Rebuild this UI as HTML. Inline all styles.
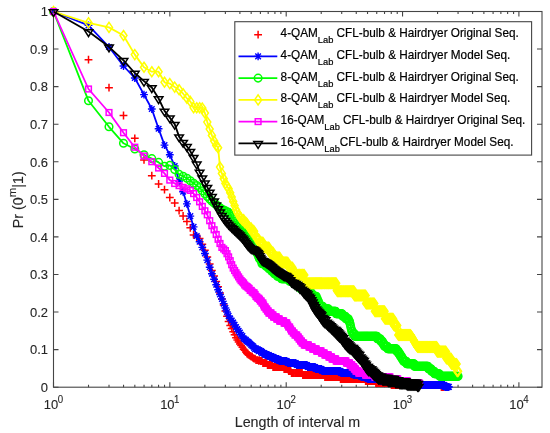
<!DOCTYPE html>
<html><head><meta charset="utf-8"><title>Pr(0^m|1) vs Length of interval m</title>
<style>
html,body{margin:0;padding:0;background:#fff}
svg{display:block}
text{font-family:"Liberation Sans",Arial,Helvetica,sans-serif;font-size:13px;fill:#262626;stroke:#262626;stroke-width:0.1px}
.lg text{fill:#000;font-size:11.76px;stroke:#000;stroke-width:0.2px}
</style></head><body>
<svg width="550" height="433" viewBox="0 0 550 433">
<defs>
<g id="gmp"><path d="M-3.9 0H3.9M0 -3.9V3.9" stroke="#ff0000" stroke-width="1.5" fill="none"/></g>
<g id="gms"><path d="M-3.9 0H3.9M0 -3.9V3.9M-2.8 -2.8L2.8 2.8M-2.8 2.8L2.8 -2.8" stroke="#0000ff" stroke-width="1.4" fill="none"/></g>
<g id="gmc"><circle r="3.8" stroke="#00ff00" stroke-width="1.5" fill="none"/></g>
<g id="gmd"><path d="M0 -5L3.5 0L0 5L-3.5 0Z" stroke="#ffff00" stroke-width="1.5" fill="none"/></g>
<g id="gmq"><rect x="-2.85" y="-2.85" width="5.7" height="5.7" stroke="#ff00ff" stroke-width="1.5" fill="none"/></g>
<g id="gmt"><path d="M-4.3 -1.7H4.3L0 5.0Z" stroke="#000" stroke-width="1.5" fill="none" stroke-linejoin="miter"/></g>
<marker id="mp" markerUnits="userSpaceOnUse" markerWidth="14" markerHeight="14" viewBox="-7 -7 14 14" refX="0" refY="0" orient="0" overflow="visible"><use href="#gmp"/></marker>
<marker id="ms" markerUnits="userSpaceOnUse" markerWidth="14" markerHeight="14" viewBox="-7 -7 14 14" refX="0" refY="0" orient="0" overflow="visible"><use href="#gms"/></marker>
<marker id="mc" markerUnits="userSpaceOnUse" markerWidth="14" markerHeight="14" viewBox="-7 -7 14 14" refX="0" refY="0" orient="0" overflow="visible"><use href="#gmc"/></marker>
<marker id="md" markerUnits="userSpaceOnUse" markerWidth="14" markerHeight="14" viewBox="-7 -7 14 14" refX="0" refY="0" orient="0" overflow="visible"><use href="#gmd"/></marker>
<marker id="mq" markerUnits="userSpaceOnUse" markerWidth="14" markerHeight="14" viewBox="-7 -7 14 14" refX="0" refY="0" orient="0" overflow="visible"><use href="#gmq"/></marker>
<marker id="mt" markerUnits="userSpaceOnUse" markerWidth="14" markerHeight="14" viewBox="-7 -7 14 14" refX="0" refY="0" orient="0" overflow="visible"><use href="#gmt"/></marker>
</defs>
<rect width="550" height="433" fill="#fff"/>
<g id="axes">
<rect x="53.5" y="11.5" width="488.5" height="375.7" fill="none" stroke="#454545" stroke-width="1.1"/>
<path d="M53.50 387.2v-5M53.50 11.5v5M88.52 387.2v-2.5M88.52 11.5v2.5M109.01 387.2v-2.5M109.01 11.5v2.5M123.55 387.2v-2.5M123.55 11.5v2.5M134.83 387.2v-2.5M134.83 11.5v2.5M144.04 387.2v-2.5M144.04 11.5v2.5M151.83 387.2v-2.5M151.83 11.5v2.5M158.57 387.2v-2.5M158.57 11.5v2.5M164.53 387.2v-2.5M164.53 11.5v2.5M169.85 387.2v-5M169.85 11.5v5M204.87 387.2v-2.5M204.87 11.5v2.5M225.36 387.2v-2.5M225.36 11.5v2.5M239.90 387.2v-2.5M239.90 11.5v2.5M251.18 387.2v-2.5M251.18 11.5v2.5M260.39 387.2v-2.5M260.39 11.5v2.5M268.18 387.2v-2.5M268.18 11.5v2.5M274.92 387.2v-2.5M274.92 11.5v2.5M280.88 387.2v-2.5M280.88 11.5v2.5M286.20 387.2v-5M286.20 11.5v5M321.22 387.2v-2.5M321.22 11.5v2.5M341.71 387.2v-2.5M341.71 11.5v2.5M356.25 387.2v-2.5M356.25 11.5v2.5M367.53 387.2v-2.5M367.53 11.5v2.5M376.74 387.2v-2.5M376.74 11.5v2.5M384.53 387.2v-2.5M384.53 11.5v2.5M391.27 387.2v-2.5M391.27 11.5v2.5M397.23 387.2v-2.5M397.23 11.5v2.5M402.55 387.2v-5M402.55 11.5v5M437.57 387.2v-2.5M437.57 11.5v2.5M458.06 387.2v-2.5M458.06 11.5v2.5M472.60 387.2v-2.5M472.60 11.5v2.5M483.88 387.2v-2.5M483.88 11.5v2.5M493.09 387.2v-2.5M493.09 11.5v2.5M500.88 387.2v-2.5M500.88 11.5v2.5M507.62 387.2v-2.5M507.62 11.5v2.5M513.58 387.2v-2.5M513.58 11.5v2.5M518.90 387.2v-5M518.90 11.5v5M53.5 387.20h5M542.0 387.20h-5M53.5 349.63h5M542.0 349.63h-5M53.5 312.06h5M542.0 312.06h-5M53.5 274.49h5M542.0 274.49h-5M53.5 236.92h5M542.0 236.92h-5M53.5 199.35h5M542.0 199.35h-5M53.5 161.78h5M542.0 161.78h-5M53.5 124.21h5M542.0 124.21h-5M53.5 86.64h5M542.0 86.64h-5M53.5 49.07h5M542.0 49.07h-5M53.5 11.50h5M542.0 11.50h-5" stroke="#454545" stroke-width="1.1" fill="none"/>
</g>
<g id="ylabels"><text transform="translate(48,392.05) scale(1,1.045)" text-anchor="end">0</text><text transform="translate(48,354.48) scale(1,1.045)" text-anchor="end">0.1</text><text transform="translate(48,316.91) scale(1,1.045)" text-anchor="end">0.2</text><text transform="translate(48,279.34) scale(1,1.045)" text-anchor="end">0.3</text><text transform="translate(48,241.77) scale(1,1.045)" text-anchor="end">0.4</text><text transform="translate(48,204.20) scale(1,1.045)" text-anchor="end">0.5</text><text transform="translate(48,166.63) scale(1,1.045)" text-anchor="end">0.6</text><text transform="translate(48,129.06) scale(1,1.045)" text-anchor="end">0.7</text><text transform="translate(48,91.49) scale(1,1.045)" text-anchor="end">0.8</text><text transform="translate(48,53.92) scale(1,1.045)" text-anchor="end">0.9</text><text transform="translate(48,16.35) scale(1,1.045)" text-anchor="end">1</text></g>
<g id="xlabels"><text transform="translate(53.5,408.6) scale(1,1.045)" text-anchor="middle">10<tspan dx="-0.5" dy="-5.6" font-size="9.7px">0</tspan></text><text transform="translate(169.8,408.6) scale(1,1.045)" text-anchor="middle">10<tspan dx="-0.5" dy="-5.6" font-size="9.7px">1</tspan></text><text transform="translate(286.2,408.6) scale(1,1.045)" text-anchor="middle">10<tspan dx="-0.5" dy="-5.6" font-size="9.7px">2</tspan></text><text transform="translate(402.5,408.6) scale(1,1.045)" text-anchor="middle">10<tspan dx="-0.5" dy="-5.6" font-size="9.7px">3</tspan></text><text transform="translate(518.9,408.6) scale(1,1.045)" text-anchor="middle">10<tspan dx="-0.5" dy="-5.6" font-size="9.7px">4</tspan></text></g>
<text transform="translate(297.5,426.6) scale(1,1.0)" text-anchor="middle" style="font-size:14.3px">Length of interval m</text>
<text transform="translate(23.2,199.8) scale(1,1.0) rotate(-90)" text-anchor="middle" style="font-size:14.3px">Pr (0<tspan dy="-7.3" font-size="11.4px">m</tspan><tspan dy="7.3">|1)</tspan></text>
<g id="curves">
<polyline points="53.5,11.5 88.5,59.7 109.0,87.7 123.5,115.5 134.8,138.3 144.0,159.9 151.8,175.7 158.6,184.0 164.5,189.7 169.8,197.5 174.7,203.0 179.1,210.6 183.1,216.0 186.9,221.6 190.3,227.8 193.6,234.9 196.7,237.0 199.6,238.5 202.3,244.2 204.9,250.3 207.3,256.9 209.7,264.1 211.9,270.5 214.1,276.1 216.2,281.6 218.1,286.8 220.0,293.0 221.9,299.0 223.7,305.1 225.4,310.9 227.0,316.3 228.6,321.6 230.2,325.4 231.7,328.6 233.2,331.7 234.6,334.8 236.0,337.8 237.3,340.0 238.6,342.0 239.9,344.0 241.1,345.5 242.4,347.3 243.6,349.3 244.7,350.2 245.9,352.0 247.0,353.6 248.0,354.4 249.1,355.1 250.2,355.8 251.2,356.5 252.2,356.6 253.2,358.1 254.1,358.7 255.1,358.7 256.0,360.2 256.9,360.1 257.8,360.2 258.7,360.8 259.5,360.2 260.4,361.0 261.2,361.0 262.0,361.0 262.9,363.0 263.6,363.0 264.4,363.0 265.2,363.0 266.0,363.0 266.7,363.0 267.5,365.0 268.2,365.0 268.9,365.0 269.6,365.0 270.3,365.0 271.0,365.0 271.7,365.0 272.3,365.0 273.0,367.0 273.6,367.0 274.3,367.0 274.9,367.0 275.6,367.0 276.2,367.0 276.8,367.0 277.4,367.0 278.0,367.0 278.6,367.0 279.2,367.0 279.7,367.0 280.3,367.0 280.9,367.0 281.4,367.0 282.0,367.0 282.5,367.0 283.1,367.0 283.6,367.0 284.1,369.0 284.7,369.0 285.2,369.0 285.7,369.0 286.2,369.0 286.7,369.0 287.7,369.0 288.7,371.0 289.6,371.0 290.6,371.0 291.5,373.0 292.4,373.0 293.3,373.0 294.1,373.0 295.0,373.0 295.8,373.0 296.7,373.0 297.5,373.0 298.3,373.0 299.1,373.0 299.8,373.0 300.6,373.0 301.4,373.0 302.1,373.0 302.8,375.0 303.6,375.0 304.3,375.0 305.0,375.0 305.7,375.0 306.4,375.0 307.0,375.0 307.7,375.0 308.3,375.0 309.0,375.0 309.6,375.0 310.3,375.0 310.9,375.0 311.5,375.0 312.1,375.0 312.7,375.0 313.3,375.0 313.9,375.0 314.5,375.0 315.1,375.0 315.6,375.0 316.2,375.0 316.7,375.0 317.3,375.0 317.8,375.0 318.4,375.0 318.9,375.0 319.4,375.0 319.9,375.0 320.5,375.0 321.0,375.0 321.5,375.0 322.0,375.0 322.7,375.0 323.4,375.0 324.2,375.0 324.9,377.0 325.6,377.0 326.3,377.0 327.0,377.0 327.6,377.0 328.3,377.0 328.9,377.0 329.6,377.0 330.2,377.0 330.9,377.0 331.5,377.0 332.1,377.0 332.7,377.0 333.3,377.0 333.9,377.0 334.5,377.0 335.1,377.0 335.6,377.0 336.2,377.0 336.8,377.0 337.3,377.0 337.9,377.0 338.4,377.0 338.9,377.0 339.5,377.0 340.0,377.0 340.5,379.0 341.0,379.0 341.5,379.0 342.0,379.0 342.7,379.0 343.4,379.0 344.0,379.0 344.7,379.0 345.3,379.0 345.9,379.0 346.5,379.0 347.1,379.0 347.7,379.0 348.3,379.0 348.9,379.0 349.5,379.0 350.1,379.0 350.6,379.0 351.2,379.0 351.8,379.0 352.3,379.0 352.9,379.0 353.4,379.0 353.9,379.0 354.4,379.0 355.0,379.0 355.5,379.0 356.0,379.0 356.5,379.0 357.0,379.0 357.6,379.0 358.2,379.0 358.8,379.0 359.4,379.0 360.0,379.0 360.6,379.0 361.2,379.0 361.8,379.0 362.3,379.0 362.9,379.0 363.4,379.0 364.0,379.0 364.5,379.0 365.0,379.0 365.6,381.0 366.1,381.0 366.6,381.0 367.1,381.0 367.6,381.0 368.1,381.0 368.7,381.0 369.3,381.0 369.9,381.0 370.5,381.0 371.0,381.0 371.6,381.0 372.2,381.0 372.7,381.0 373.3,381.0 373.8,381.0 374.3,381.0 374.9,381.0 375.4,381.0 375.9,383.0 376.4,383.0 376.9,383.0 377.4,383.0 378.0,383.0 378.6,383.0 379.1,383.0 379.7,383.0 380.2,383.0 380.8,383.0 381.3,383.0 381.9,383.0 382.4,383.0 382.9,383.0 383.4,383.0 383.9,383.0 384.5,383.0 385.0,383.0 385.5,383.0 386.1,383.0 386.6,383.0 387.2,383.0 387.7,383.0 388.3,383.0 388.8,383.0 389.3,383.0 389.9,383.0 390.4,383.0 390.9,383.0 391.4,385.0 391.9,385.0 392.5,385.0 393.0,385.0 393.6,385.0 394.1,385.0 394.6,385.0 395.2,385.0 395.7,385.0 396.2,385.0 396.7,385.0 397.2,385.0 397.7,385.0 398.3,385.0 398.8,385.0 399.4,385.0 399.9,385.0 400.4,385.0 401.0,385.0 401.5,385.0 402.0,385.0 402.5,385.0 403.0,385.0 403.6,385.0 404.1,385.0 404.6,385.0 405.2,385.0 405.7,385.0 406.2,385.0 406.7,385.0 407.2,385.0 407.7,385.0 408.3,385.0 408.8,385.0 409.3,385.0 409.9,385.0 410.4,385.0 410.9,385.0 411.4,385.0 411.9,385.0 412.4,385.0 413.0,385.0 413.5,385.0 414.0,385.0 414.5,385.0 415.1,385.0 415.6,385.0 416.1,385.0 416.6,385.0 417.1,385.0 417.6,385.0 418.2,385.0 418.7,385.0 419.2,385.0 419.7,385.0 420.2,385.0 420.7,385.0 421.3,385.0 421.8,385.0 422.3,385.0 422.8,385.0 423.3,385.0 423.8,385.0 424.3,385.0 424.9,385.0 425.4,385.0 425.9,385.0 426.4,385.0 426.9,385.0 427.4,385.0 427.9,385.0 428.5,385.0 429.0,385.0 429.5,385.0 430.0,385.0 430.5,385.0 431.0,385.0 431.5,385.0 432.1,385.0 432.6,385.0 433.1,385.0 433.6,385.0 434.1,385.0 434.6,385.0 435.1,385.0 435.6,385.0 436.2,385.0 436.7,385.0 437.2,385.0 437.7,385.0 438.2,385.0 438.7,385.0 439.2,385.0 439.8,385.0 440.3,385.0 440.8,385.0 441.3,386.9 441.8,386.9 442.3,386.9 442.8,386.9 443.3,386.9 443.8,386.9" fill="none" stroke="none" stroke-width="1.8" stroke-linejoin="round" marker-start="url(#mp)" marker-mid="url(#mp)" marker-end="url(#mp)"/>
<polyline points="53.5,11.5 88.5,25.4 109.0,47.0 123.5,66.0 134.8,78.0 144.0,94.6 151.8,109.0 158.6,128.8 164.5,145.1 169.8,154.8 174.7,166.0 179.1,181.0 183.1,191.8 186.9,203.9 190.3,216.1 193.6,226.9 196.7,236.0 199.6,241.7 202.3,247.4 204.9,253.5 207.3,260.1 209.7,267.3 211.9,273.7 214.1,279.3 216.2,284.7 218.1,289.8 220.0,294.5 221.9,299.0 223.7,303.6 225.4,308.0 227.0,312.0 228.6,315.9 230.2,318.5 231.7,320.5 233.2,322.5 234.6,324.9 236.0,327.1 237.3,329.1 238.6,330.9 239.9,332.6 241.1,334.7 242.4,336.1 243.6,338.4 244.7,339.3 245.9,339.9 247.0,341.2 248.0,341.9 249.1,342.6 250.2,343.7 251.2,344.9 252.2,345.6 253.2,346.4 254.1,348.0 255.1,349.1 256.0,348.5 256.9,349.6 257.8,349.2 258.7,351.3 259.5,350.4 260.4,351.0 261.2,351.0 262.0,353.0 262.9,353.0 263.6,353.0 264.4,353.0 265.2,355.0 266.0,355.0 266.7,355.0 267.5,355.0 268.2,355.0 268.9,355.0 269.6,357.0 270.3,357.0 271.0,357.0 271.7,357.0 272.3,357.0 273.0,357.0 273.6,357.0 274.3,359.0 274.9,359.0 275.6,359.0 276.2,359.0 276.8,359.0 277.4,359.0 278.0,359.0 278.6,359.0 279.2,361.0 279.7,361.0 280.3,361.0 280.9,361.0 281.4,361.0 282.0,361.0 282.5,361.0 283.1,361.0 283.6,361.0 284.1,361.0 284.7,361.0 285.2,361.0 285.7,361.0 286.2,361.0 286.7,361.0 287.7,363.0 288.7,363.0 289.6,363.0 290.6,363.0 291.5,363.0 292.4,363.0 293.3,363.0 294.1,363.0 295.0,363.0 295.8,363.0 296.7,365.0 297.5,365.0 298.3,365.0 299.1,365.0 299.8,365.0 300.6,365.0 301.4,365.0 302.1,365.0 302.8,365.0 303.6,365.0 304.3,365.0 305.0,365.0 305.7,365.0 306.4,365.0 307.0,365.0 307.7,367.0 308.3,367.0 309.0,367.0 309.6,367.0 310.3,367.0 310.9,367.0 311.5,367.0 312.1,367.0 312.7,367.0 313.3,367.0 313.9,367.0 314.5,367.0 315.1,367.0 315.6,369.0 316.2,369.0 316.7,369.0 317.3,369.0 317.8,369.0 318.4,369.0 318.9,369.0 319.4,369.0 319.9,369.0 320.5,369.0 321.0,369.0 321.5,369.0 322.0,371.0 322.7,371.0 323.4,371.0 324.2,371.0 324.9,371.0 325.6,371.0 326.3,371.0 327.0,371.0 327.6,371.0 328.3,371.0 328.9,371.0 329.6,371.0 330.2,371.0 330.9,371.0 331.5,371.0 332.1,371.0 332.7,371.0 333.3,371.0 333.9,371.0 334.5,371.0 335.1,371.0 335.6,371.0 336.2,371.0 336.8,371.0 337.3,371.0 337.9,371.0 338.4,371.0 338.9,371.0 339.5,371.0 340.0,371.0 340.5,371.0 341.0,373.0 341.5,373.0 342.0,373.0 342.7,373.0 343.4,373.0 344.0,373.0 344.7,373.0 345.3,373.0 345.9,373.0 346.5,373.0 347.1,373.0 347.7,373.0 348.3,373.0 348.9,373.0 349.5,373.0 350.1,373.0 350.6,373.0 351.2,373.0 351.8,373.0 352.3,373.0 352.9,373.0 353.4,375.0 353.9,375.0 354.4,375.0 355.0,375.0 355.5,375.0 356.0,375.0 356.5,375.0 357.0,375.0 357.6,375.0 358.2,375.0 358.8,375.0 359.4,375.0 360.0,375.0 360.6,375.0 361.2,377.0 361.8,377.0 362.3,377.0 362.9,377.0 363.4,377.0 364.0,377.0 364.5,377.0 365.0,377.0 365.6,377.0 366.1,377.0 366.6,377.0 367.1,377.0 367.6,379.0 368.1,379.0 368.7,379.0 369.3,379.0 369.9,379.0 370.5,379.0 371.0,379.0 371.6,379.0 372.2,379.0 372.7,379.0 373.3,379.0 373.8,379.0 374.3,379.0 374.9,379.0 375.4,379.0 375.9,379.0 376.4,379.0 376.9,379.0 377.4,379.0 378.0,379.0 378.6,379.0 379.1,379.0 379.7,379.0 380.2,379.0 380.8,381.0 381.3,381.0 381.9,381.0 382.4,381.0 382.9,381.0 383.4,381.0 383.9,381.0 384.5,381.0 385.0,381.0 385.5,381.0 386.1,381.0 386.6,381.0 387.2,381.0 387.7,381.0 388.3,381.0 388.8,381.0 389.3,381.0 389.9,381.0 390.4,381.0 390.9,381.0 391.4,381.0 391.9,381.0 392.5,381.0 393.0,381.0 393.6,381.0 394.1,381.0 394.6,381.0 395.2,381.0 395.7,383.0 396.2,383.0 396.7,383.0 397.2,383.0 397.7,383.0 398.3,383.0 398.8,383.0 399.4,383.0 399.9,383.0 400.4,383.0 401.0,383.0 401.5,383.0 402.0,383.0 402.5,383.0 403.0,383.0 403.6,383.0 404.1,383.0 404.6,383.0 405.2,383.0 405.7,383.0 406.2,383.0 406.7,383.0 407.2,383.0 407.7,383.0 408.3,383.0 408.8,383.0 409.3,383.0 409.9,383.0 410.4,383.0 410.9,383.0 411.4,383.0 411.9,383.0 412.4,383.0 413.0,383.0 413.5,383.0 414.0,383.0 414.5,383.0 415.1,383.0 415.6,383.0 416.1,383.0 416.6,383.0 417.1,385.0 417.6,385.0 418.2,385.0 418.7,385.0 419.2,385.0 419.7,385.0 420.2,385.0 420.7,385.0 421.3,385.0 421.8,385.0 422.3,385.0 422.8,385.0 423.3,385.0 423.8,385.0 424.3,385.0 424.9,385.0 425.4,385.0 425.9,385.0 426.4,385.0 426.9,385.0 427.4,385.0 427.9,385.0 428.5,385.0 429.0,385.0 429.5,385.0 430.0,385.0 430.5,385.0 431.0,385.0 431.5,385.0 432.1,385.0 432.6,385.0 433.1,385.0 433.6,385.0 434.1,385.0 434.6,385.0 435.1,385.0 435.6,385.0 436.2,385.0 436.7,385.0 437.2,385.0 437.7,385.0 438.2,385.0 438.7,385.0 439.2,385.0 439.8,385.0 440.3,385.0 440.8,385.0 441.3,385.0 441.8,385.0 442.3,385.0 442.8,385.0 443.3,385.0 443.8,385.0 444.4,385.0 444.9,386.9 445.4,386.9 445.9,386.9 446.4,386.9 446.9,386.9 447.4,386.9 447.9,386.9 448.4,386.9 448.9,386.9" fill="none" stroke="#0000ff" stroke-width="1.8" stroke-linejoin="round" marker-start="url(#ms)" marker-mid="url(#ms)" marker-end="url(#ms)"/>
<polyline points="53.5,11.5 88.5,100.8 109.0,126.8 123.5,143.3 134.8,149.0 144.0,154.8 151.8,158.6 158.6,162.4 164.5,166.2 169.8,165.4 174.7,169.6 179.1,174.4 183.1,176.2 186.9,178.2 190.3,180.8 193.6,183.3 196.7,185.5 199.6,187.6 202.3,190.7 204.9,193.8 207.3,196.5 209.7,199.0 211.9,201.2 214.1,203.0 216.2,204.7 218.1,206.3 220.0,207.8 221.9,209.2 223.7,210.0 225.4,210.9 227.0,211.7 228.6,212.4 230.2,214.3 231.7,216.6 233.2,218.8 234.6,221.0 236.0,223.2 237.3,224.7 238.6,226.1 239.9,227.1 241.1,228.4 242.4,229.4 243.6,230.5 244.7,231.7 245.9,232.8 247.0,233.9 248.0,235.5 249.1,236.4 250.2,237.2 251.2,238.6 252.2,241.3 253.2,244.2 254.1,245.7 255.1,247.8 256.0,250.8 256.9,253.0 257.8,254.2 258.7,256.9 259.5,258.9 260.4,258.8 261.2,261.2 262.0,263.8 262.9,263.8 263.6,263.8 264.4,263.8 265.2,263.8 266.0,266.2 266.7,266.2 267.5,266.2 268.2,266.2 268.9,268.8 269.6,268.8 270.3,268.8 271.0,268.8 271.7,271.2 272.3,271.2 273.0,271.2 273.6,271.2 274.3,273.8 274.9,273.8 275.6,273.8 276.2,273.8 276.8,273.8 277.4,276.2 278.0,276.2 278.6,276.2 279.2,276.2 279.7,276.2 280.3,276.2 280.9,276.2 281.4,278.8 282.0,278.8 282.5,278.8 283.1,278.8 283.6,278.8 284.1,278.8 284.7,278.8 285.2,278.8 285.7,278.8 286.2,278.8 286.7,278.8 287.7,278.8 288.7,278.8 289.6,281.2 290.6,281.2 291.5,281.2 292.4,281.2 293.3,281.2 294.1,283.8 295.0,283.8 295.8,283.8 296.7,283.8 297.5,286.2 298.3,286.2 299.1,286.2 299.8,286.2 300.6,288.8 301.4,288.8 302.1,288.8 302.8,288.8 303.6,288.8 304.3,288.8 305.0,288.8 305.7,288.8 306.4,288.8 307.0,288.8 307.7,288.8 308.3,291.2 309.0,291.2 309.6,291.2 310.3,291.2 310.9,293.8 311.5,293.8 312.1,293.8 312.7,296.2 313.3,296.2 313.9,296.2 314.5,296.2 315.1,296.2 315.6,296.2 316.2,296.2 316.7,298.8 317.3,298.8 317.8,301.2 318.4,301.2 318.9,303.8 319.4,303.8 319.9,306.2 320.5,306.2 321.0,306.2 321.5,306.2 322.0,306.2 322.7,306.2 323.4,308.8 324.2,308.8 324.9,308.8 325.6,308.8 326.3,308.8 327.0,308.8 327.6,308.8 328.3,308.8 328.9,311.2 329.6,311.2 330.2,311.2 330.9,311.2 331.5,311.2 332.1,311.2 332.7,311.2 333.3,311.2 333.9,311.2 334.5,311.2 335.1,311.2 335.6,311.2 336.2,313.8 336.8,313.8 337.3,313.8 337.9,313.8 338.4,313.8 338.9,313.8 339.5,313.8 340.0,313.8 340.5,313.8 341.0,313.8 341.5,313.8 342.0,313.8 342.7,316.2 343.4,316.2 344.0,316.2 344.7,316.2 345.3,316.2 345.9,318.8 346.5,318.8 347.1,318.8 347.7,318.8 348.3,318.8 348.9,321.2 349.5,321.2 350.1,323.8 350.6,326.2 351.2,328.8 351.8,331.2 352.3,331.2 352.9,333.8 353.4,333.8 353.9,333.8 354.4,333.8 355.0,336.2 355.5,336.2 356.0,336.2 356.5,336.2 357.0,336.2 357.6,336.2 358.2,336.2 358.8,336.2 359.4,336.2 360.0,336.2 360.6,336.2 361.2,336.2 361.8,336.2 362.3,336.2 362.9,336.2 363.4,336.2 364.0,336.2 364.5,336.2 365.0,336.2 365.6,336.2 366.1,336.2 366.6,336.2 367.1,336.2 367.6,336.2 368.1,336.2 368.7,336.2 369.3,336.2 369.9,336.2 370.5,336.2 371.0,336.2 371.6,336.2 372.2,336.2 372.7,336.2 373.3,336.2 373.8,336.2 374.3,336.2 374.9,336.2 375.4,336.2 375.9,336.2 376.4,336.2 376.9,336.2 377.4,338.8 378.0,338.8 378.6,338.8 379.1,338.8 379.7,338.8 380.2,338.8 380.8,341.2 381.3,341.2 381.9,341.2 382.4,341.2 382.9,343.8 383.4,343.8 383.9,343.8 384.5,346.2 385.0,346.2 385.5,346.2 386.1,346.2 386.6,346.2 387.2,346.2 387.7,348.8 388.3,348.8 388.8,348.8 389.3,348.8 389.9,348.8 390.4,348.8 390.9,348.8 391.4,348.8 391.9,348.8 392.5,348.8 393.0,348.8 393.6,348.8 394.1,348.8 394.6,348.8 395.2,348.8 395.7,348.8 396.2,348.8 396.7,351.2 397.2,351.2 397.7,351.2 398.3,351.2 398.8,353.8 399.4,353.8 399.9,353.8 400.4,356.2 401.0,356.2 401.5,356.2 402.0,358.8 402.5,358.8 403.0,358.8 403.6,361.2 404.1,361.2 404.6,361.2 405.2,361.2 405.7,361.2 406.2,361.2 406.7,363.8 407.2,363.8 407.7,363.8 408.3,363.8 408.8,363.8 409.3,363.8 409.9,363.8 410.4,363.8 410.9,363.8 411.4,363.8 411.9,363.8 412.4,363.8 413.0,363.8 413.5,363.8 414.0,363.8 414.5,366.2 415.1,366.2 415.6,366.2 416.1,366.2 416.6,366.2 417.1,366.2 417.6,366.2 418.2,366.2 418.7,366.2 419.2,366.2 419.7,366.2 420.2,366.2 420.7,366.2 421.3,366.2 421.8,366.2 422.3,366.2 422.8,366.2 423.3,366.2 423.8,366.2 424.3,366.2 424.9,366.2 425.4,366.2 425.9,366.2 426.4,366.2 426.9,366.2 427.4,366.2 427.9,366.2 428.5,368.8 429.0,368.8 429.5,368.8 430.0,368.8 430.5,368.8 431.0,368.8 431.5,371.2 432.1,371.2 432.6,371.2 433.1,371.2 433.6,371.2 434.1,371.2 434.6,373.8 435.1,373.8 435.6,373.8 436.2,373.8 436.7,373.8 437.2,373.8 437.7,373.8 438.2,373.8 438.7,373.8 439.2,373.8 439.8,376.2 440.3,376.2 440.8,376.2 441.3,376.2 441.8,376.2 442.3,376.2 442.8,376.2 443.3,376.2 443.8,376.2 444.4,376.2 444.9,376.2 445.4,376.2 445.9,376.2 446.4,376.2 446.9,376.2 447.4,376.2 447.9,376.2 448.4,376.2 448.9,376.2 449.4,376.2 449.9,376.2 450.5,376.2 451.0,376.2 451.5,376.2 452.0,376.2 452.5,376.2 453.0,376.2 453.5,376.2 454.0,376.2 454.5,376.2 455.0,376.2 455.5,376.2 456.1,376.2 456.6,376.2 457.1,376.2 457.6,376.2 458.1,376.2" fill="none" stroke="#00ff00" stroke-width="1.8" stroke-linejoin="round" marker-start="url(#mc)" marker-mid="url(#mc)" marker-end="url(#mc)"/>
<polyline points="53.5,11.5 88.5,22.8 109.0,27.4 123.5,35.5 134.8,54.6 144.0,67.3 151.8,71.7 158.6,71.7 164.5,82.3 169.8,83.6 174.7,87.1 179.1,89.8 183.1,93.7 186.9,98.3 190.3,101.4 193.6,107.7 196.7,107.7 199.6,107.7 202.3,108.1 204.9,113.0 207.3,122.1 209.7,129.1 211.9,135.4 214.1,140.9 216.2,145.4 218.1,147.8 220.0,167.1 221.9,173.4 223.7,178.8 225.4,183.4 227.0,186.2 228.6,188.8 230.2,192.7 231.7,197.1 233.2,201.4 234.6,205.6 236.0,209.7 237.3,212.6 238.6,214.7 239.9,217.1 241.1,218.2 242.4,220.2 243.6,219.8 244.7,222.5 245.9,222.5 247.0,223.7 248.0,225.7 249.1,227.2 250.2,228.8 251.2,228.1 252.2,231.9 253.2,230.6 254.1,231.3 255.1,234.7 256.0,237.2 256.9,238.7 257.8,239.4 258.7,239.1 259.5,242.9 260.4,242.5 261.2,242.5 262.0,242.5 262.9,242.5 263.6,247.5 264.4,247.5 265.2,247.5 266.0,247.5 266.7,247.5 267.5,247.5 268.2,247.5 268.9,247.5 269.6,252.5 270.3,252.5 271.0,252.5 271.7,252.5 272.3,252.5 273.0,252.5 273.6,257.5 274.3,257.5 274.9,257.5 275.6,257.5 276.2,257.5 276.8,257.5 277.4,257.5 278.0,257.5 278.6,257.5 279.2,257.5 279.7,257.5 280.3,262.5 280.9,262.5 281.4,262.5 282.0,262.5 282.5,262.5 283.1,262.5 283.6,262.5 284.1,262.5 284.7,262.5 285.2,262.5 285.7,262.5 286.2,262.5 286.7,262.5 287.7,262.5 288.7,267.5 289.6,267.5 290.6,267.5 291.5,267.5 292.4,267.5 293.3,270.3 294.1,271.4 295.0,272.5 295.8,273.6 296.7,274.7 297.5,274.9 298.3,274.9 299.1,274.9 299.8,274.9 300.6,274.9 301.4,274.9 302.1,274.9 302.8,274.9 303.6,274.9 304.3,274.9 305.0,283.2 305.7,283.2 306.4,283.2 307.0,283.2 307.7,283.2 308.3,283.2 309.0,283.2 309.6,283.2 310.3,283.2 310.9,283.2 311.5,283.2 312.1,283.2 312.7,283.2 313.3,283.2 313.9,283.2 314.5,283.2 315.1,283.2 315.6,283.2 316.2,283.2 316.7,283.2 317.3,283.2 317.8,283.2 318.4,283.2 318.9,283.2 319.4,283.2 319.9,283.2 320.5,283.2 321.0,283.2 321.5,283.2 322.0,283.2 322.7,283.2 323.4,283.2 324.2,283.2 324.9,283.2 325.6,283.2 326.3,283.2 327.0,283.2 327.6,283.2 328.3,283.2 328.9,283.2 329.6,283.2 330.2,283.2 330.9,283.2 331.5,283.2 332.1,283.2 332.7,283.2 333.3,283.2 333.9,283.2 334.5,283.2 335.1,283.2 335.6,283.2 336.2,283.2 336.8,290.2 337.3,291.2 337.9,291.2 338.4,291.2 338.9,291.2 339.5,291.2 340.0,291.2 340.5,291.2 341.0,291.2 341.5,291.2 342.0,291.2 342.7,291.2 343.4,291.2 344.0,291.2 344.7,291.2 345.3,291.2 345.9,291.2 346.5,291.2 347.1,291.2 347.7,291.2 348.3,291.2 348.9,291.2 349.5,291.2 350.1,291.2 350.6,291.2 351.2,291.2 351.8,291.2 352.3,291.2 352.9,291.2 353.4,291.2 353.9,291.2 354.4,295.5 355.0,295.5 355.5,295.5 356.0,295.5 356.5,295.5 357.0,295.5 357.6,295.5 358.2,295.5 358.8,295.5 359.4,295.5 360.0,295.5 360.6,295.5 361.2,295.5 361.8,295.5 362.3,295.5 362.9,295.5 363.4,295.5 364.0,295.5 364.5,295.5 365.0,295.5 365.6,295.5 366.1,303.5 366.6,303.5 367.1,303.5 367.6,303.5 368.1,303.5 368.7,303.5 369.3,303.5 369.9,303.5 370.5,303.5 371.0,303.5 371.6,303.5 372.2,303.5 372.7,303.5 373.3,303.5 373.8,303.5 374.3,303.5 374.9,311.2 375.4,311.2 375.9,311.2 376.4,311.2 376.9,311.2 377.4,311.2 378.0,311.2 378.6,311.2 379.1,311.2 379.7,311.2 380.2,311.2 380.8,311.2 381.3,311.2 381.9,311.2 382.4,311.2 382.9,311.2 383.4,311.2 383.9,311.2 384.5,311.2 385.0,318.8 385.5,318.8 386.1,318.8 386.6,318.8 387.2,318.8 387.7,318.8 388.3,318.8 388.8,318.8 389.3,318.8 389.9,318.8 390.4,318.8 390.9,318.8 391.4,318.8 391.9,318.8 392.5,318.8 393.0,318.8 393.6,324.5 394.1,325.4 394.6,325.4 395.2,325.4 395.7,325.4 396.2,325.4 396.7,325.4 397.2,325.4 397.7,329.5 398.3,335.0 398.8,335.0 399.4,335.0 399.9,335.0 400.4,335.0 401.0,335.0 401.5,335.0 402.0,335.0 402.5,335.0 403.0,335.0 403.6,335.0 404.1,335.0 404.6,335.0 405.2,335.0 405.7,335.0 406.2,335.0 406.7,335.0 407.2,335.0 407.7,335.0 408.3,335.0 408.8,335.0 409.3,335.0 409.9,335.0 410.4,335.0 410.9,335.7 411.4,336.6 411.9,337.5 412.4,338.3 413.0,339.2 413.5,340.1 414.0,341.0 414.5,341.9 415.1,342.8 415.6,343.7 416.1,344.6 416.6,345.4 417.1,346.3 417.6,347.0 418.2,347.0 418.7,347.0 419.2,347.0 419.7,347.0 420.2,347.0 420.7,347.0 421.3,347.0 421.8,347.0 422.3,347.0 422.8,347.0 423.3,347.0 423.8,347.0 424.3,347.0 424.9,347.0 425.4,347.0 425.9,347.0 426.4,347.0 426.9,347.0 427.4,347.0 427.9,347.0 428.5,347.0 429.0,347.0 429.5,347.0 430.0,347.0 430.5,347.0 431.0,347.0 431.5,347.0 432.1,347.0 432.6,347.0 433.1,347.0 433.6,347.0 434.1,347.0 434.6,347.0 435.1,347.0 435.6,347.0 436.2,347.0 436.7,347.0 437.2,351.6 437.7,351.6 438.2,351.6 438.7,351.6 439.2,351.6 439.8,351.6 440.3,351.6 440.8,351.6 441.3,351.6 441.8,351.6 442.3,351.6 442.8,351.6 443.3,351.6 443.8,351.6 444.4,351.6 444.9,351.6 445.4,351.6 445.9,351.6 446.4,358.5 446.9,358.5 447.4,358.5 447.9,358.5 448.4,358.5 448.9,358.5 449.4,358.5 449.9,358.5 450.5,358.5 451.0,358.5 451.5,364.0 452.0,364.0 452.5,364.0 453.0,364.0 453.5,364.0 454.0,364.0 454.5,364.0 455.0,364.0 455.5,364.0 456.1,364.0 456.6,364.0 457.1,371.2 457.6,371.2 458.1,371.2" fill="none" stroke="#ffff00" stroke-width="1.8" stroke-linejoin="round" marker-start="url(#md)" marker-mid="url(#md)" marker-end="url(#md)"/>
<polyline points="53.5,11.5 88.5,89.0 109.0,112.5 123.5,132.7 134.8,147.2 144.0,156.0 151.8,161.7 158.6,168.0 164.5,173.4 169.8,180.1 174.7,183.5 179.1,185.6 183.1,187.4 186.9,188.8 190.3,190.4 193.6,193.6 196.7,197.5 199.6,201.8 202.3,206.4 204.9,210.8 207.3,214.8 209.7,220.7 211.9,225.7 214.1,229.8 216.2,234.5 218.1,239.3 220.0,243.5 221.9,247.4 223.7,249.0 225.4,250.6 227.0,253.7 228.6,256.9 230.2,260.7 231.7,264.7 233.2,268.1 234.6,270.5 236.0,272.8 237.3,274.9 238.6,276.9 239.9,278.9 241.1,280.6 242.4,281.9 243.6,283.0 244.7,284.9 245.9,286.0 247.0,286.6 248.0,287.6 249.1,288.5 250.2,290.4 251.2,290.5 252.2,292.0 253.2,292.7 254.1,292.9 255.1,294.5 256.0,296.4 256.9,297.0 257.8,298.2 258.7,298.3 259.5,299.4 260.4,301.0 261.2,301.0 262.0,303.0 262.9,303.0 263.6,305.0 264.4,307.0 265.2,307.0 266.0,309.0 266.7,309.0 267.5,311.0 268.2,311.0 268.9,313.0 269.6,313.0 270.3,313.0 271.0,313.0 271.7,315.0 272.3,315.0 273.0,315.0 273.6,317.0 274.3,317.0 274.9,317.0 275.6,317.0 276.2,317.0 276.8,319.0 277.4,319.0 278.0,319.0 278.6,319.0 279.2,319.0 279.7,321.0 280.3,321.0 280.9,321.0 281.4,321.0 282.0,321.0 282.5,321.0 283.1,321.0 283.6,321.0 284.1,323.0 284.7,323.0 285.2,323.0 285.7,323.0 286.2,323.0 286.7,323.0 287.7,325.0 288.7,327.0 289.6,327.0 290.6,329.0 291.5,331.0 292.4,331.0 293.3,333.0 294.1,333.0 295.0,335.0 295.8,335.0 296.7,335.0 297.5,337.0 298.3,337.0 299.1,339.0 299.8,339.0 300.6,341.0 301.4,341.0 302.1,343.0 302.8,343.0 303.6,343.0 304.3,345.0 305.0,345.0 305.7,345.0 306.4,345.0 307.0,345.0 307.7,345.0 308.3,345.0 309.0,347.0 309.6,347.0 310.3,347.0 310.9,347.0 311.5,347.0 312.1,347.0 312.7,349.0 313.3,349.0 313.9,349.0 314.5,349.0 315.1,349.0 315.6,349.0 316.2,349.0 316.7,351.0 317.3,351.0 317.8,351.0 318.4,351.0 318.9,351.0 319.4,351.0 319.9,351.0 320.5,351.0 321.0,351.0 321.5,353.0 322.0,353.0 322.7,353.0 323.4,353.0 324.2,353.0 324.9,355.0 325.6,355.0 326.3,355.0 327.0,355.0 327.6,355.0 328.3,355.0 328.9,357.0 329.6,357.0 330.2,357.0 330.9,357.0 331.5,357.0 332.1,359.0 332.7,359.0 333.3,359.0 333.9,359.0 334.5,359.0 335.1,359.0 335.6,359.0 336.2,361.0 336.8,361.0 337.3,361.0 337.9,361.0 338.4,361.0 338.9,361.0 339.5,361.0 340.0,361.0 340.5,361.0 341.0,361.0 341.5,361.0 342.0,361.0 342.7,361.0 343.4,361.0 344.0,361.0 344.7,361.0 345.3,361.0 345.9,361.0 346.5,363.0 347.1,363.0 347.7,363.0 348.3,363.0 348.9,363.0 349.5,363.0 350.1,365.0 350.6,365.0 351.2,365.0 351.8,365.0 352.3,367.0 352.9,367.0 353.4,367.0 353.9,367.0 354.4,369.0 355.0,369.0 355.5,369.0 356.0,371.0 356.5,371.0 357.0,371.0 357.6,371.0 358.2,371.0 358.8,373.0 359.4,373.0 360.0,373.0 360.6,373.0 361.2,373.0 361.8,373.0 362.3,373.0 362.9,373.0 363.4,373.0 364.0,373.0 364.5,373.0 365.0,373.0 365.6,375.0 366.1,375.0 366.6,375.0 367.1,375.0 367.6,375.0 368.1,375.0 368.7,375.0 369.3,375.0 369.9,375.0 370.5,375.0 371.0,375.0 371.6,375.0 372.2,375.0 372.7,375.0 373.3,375.0 373.8,375.0 374.3,375.0 374.9,377.0 375.4,377.0 375.9,377.0 376.4,377.0 376.9,377.0 377.4,377.0 378.0,377.0 378.6,377.0 379.1,377.0 379.7,377.0 380.2,377.0 380.8,377.0 381.3,377.0 381.9,377.0 382.4,377.0 382.9,377.0 383.4,377.0 383.9,377.0 384.5,377.0 385.0,377.0 385.5,377.0 386.1,377.0 386.6,377.0 387.2,377.0 387.7,377.0 388.3,377.0 388.8,377.0 389.3,377.0 389.9,377.0 390.4,379.0 390.9,379.0 391.4,379.0 391.9,379.0 392.5,379.0 393.0,379.0 393.6,379.0 394.1,379.0 394.6,379.0 395.2,379.0 395.7,379.0 396.2,379.0 396.7,379.0 397.2,379.0 397.7,379.0 398.3,381.0 398.8,381.0 399.4,381.0 399.9,381.0 400.4,381.0 401.0,381.0 401.5,381.0 402.0,381.0 402.5,381.0 403.0,381.0 403.6,381.0 404.1,381.0 404.6,381.0 405.2,381.0 405.7,381.0 406.2,381.0 406.7,381.0 407.2,381.0 407.7,383.0 408.3,383.0 408.8,383.0 409.3,383.0 409.9,383.0 410.4,383.0 410.9,383.0 411.4,383.0 411.9,383.0 412.4,383.0 413.0,383.0 413.5,383.0 414.0,383.0 414.5,383.0 415.1,383.0 415.6,383.0 416.1,383.0 416.6,383.0 417.1,383.0 417.6,383.0 418.2,383.0 418.7,383.0 419.2,383.0" fill="none" stroke="#ff00ff" stroke-width="1.8" stroke-linejoin="round" marker-start="url(#mq)" marker-mid="url(#mq)" marker-end="url(#mq)"/>
<polyline points="53.5,11.5 88.5,31.5 109.0,46.8 123.5,60.3 134.8,73.0 144.0,81.1 151.8,87.5 158.6,98.5 164.5,110.9 169.8,117.6 174.7,124.1 179.1,136.6 183.1,142.1 186.9,146.3 190.3,151.2 193.6,157.2 196.7,163.8 199.6,171.9 202.3,177.6 204.9,182.6 207.3,187.2 209.7,191.9 211.9,196.3 214.1,200.6 216.2,204.6 218.1,208.4 220.0,211.8 221.9,215.2 223.7,217.8 225.4,220.3 227.0,222.2 228.6,224.0 230.2,225.6 231.7,227.1 233.2,228.5 234.6,229.9 236.0,231.2 237.3,232.5 238.6,233.7 239.9,234.8 241.1,236.2 242.4,237.6 243.6,239.0 244.7,240.6 245.9,242.2 247.0,243.7 248.0,245.0 249.1,246.2 250.2,247.4 251.2,248.3 252.2,248.5 253.2,248.8 254.1,249.1 255.1,249.7 256.0,250.7 256.9,251.6 257.8,252.5 258.7,253.8 259.5,255.5 260.4,257.1 261.2,258.7 262.0,259.9 262.9,260.4 263.6,260.8 264.4,261.2 265.2,261.6 266.0,262.0 266.7,262.5 267.5,263.0 268.2,263.5 268.9,264.0 269.6,264.6 270.3,265.2 271.0,265.8 271.7,266.4 272.3,267.0 273.0,267.6 273.6,268.1 274.3,268.6 274.9,269.2 275.6,269.7 276.2,270.2 276.8,270.6 277.4,270.9 278.0,271.3 278.6,271.7 279.2,272.0 279.7,272.4 280.3,272.7 280.9,273.1 281.4,273.4 282.0,273.8 282.5,274.2 283.1,274.5 283.6,274.8 284.1,275.6 284.7,275.2 285.2,275.6 285.7,275.2 286.2,275.6 286.7,276.3 287.7,276.9 288.7,277.5 289.6,279.4 290.6,279.8 291.5,281.8 292.4,282.1 293.3,283.1 294.1,282.1 295.0,284.4 295.8,283.2 296.7,285.6 297.5,284.3 298.3,285.7 299.1,285.5 299.8,288.1 300.6,286.6 301.4,289.4 302.1,289.0 302.8,290.7 303.6,290.1 304.3,293.1 305.0,291.3 305.7,294.4 306.4,292.4 307.0,295.6 307.7,293.6 308.3,296.9 309.0,295.9 309.6,298.1 310.3,297.1 310.9,300.6 311.5,299.4 312.1,303.0 312.7,301.8 313.3,305.4 313.9,304.1 314.5,307.9 315.1,306.5 315.6,310.3 316.2,308.8 316.7,311.6 317.3,310.0 317.8,312.8 318.4,311.2 318.9,314.1 319.4,312.3 319.9,315.3 320.5,313.5 321.0,317.7 321.5,314.7 322.0,318.9 322.7,317.1 323.4,321.3 324.2,318.3 324.9,322.5 325.6,319.5 326.3,323.7 327.0,321.9 327.6,324.9 328.3,323.1 328.9,326.1 329.6,324.3 330.2,327.3 330.9,325.5 331.5,328.5 332.1,326.7 332.7,329.7 333.3,327.9 333.9,330.9 334.5,329.1 335.1,332.1 335.6,329.1 336.2,333.3 336.8,330.3 337.3,334.5 337.9,331.5 338.4,335.7 338.9,332.7 339.5,336.9 340.0,333.9 340.5,336.9 341.0,335.1 341.5,338.1 342.0,336.3 342.7,340.5 343.4,337.5 344.0,341.7 344.7,339.9 345.3,344.1 345.9,341.1 346.5,345.3 347.1,342.3 347.7,346.5 348.3,343.5 348.9,347.7 349.5,344.7 350.1,348.9 350.6,345.9 351.2,348.9 351.8,347.1 352.3,350.1 352.9,347.1 353.4,351.3 353.9,348.3 354.4,352.5 355.0,349.5 355.5,353.7 356.0,350.7 356.5,354.9 357.0,351.9 357.6,356.1 358.2,353.1 358.8,357.3 359.4,354.3 360.0,358.5 360.6,356.7 361.2,359.7 361.8,357.9 362.3,360.9 362.9,359.1 363.4,363.3 364.0,360.3 364.5,364.5 365.0,362.7 365.6,365.7 366.1,363.9 366.6,368.1 367.1,366.3 367.6,369.3 368.1,366.3 368.7,370.5 369.3,367.5 369.9,370.5 370.5,368.7 371.0,371.7 371.6,368.7 372.2,372.9 372.7,369.9 373.3,374.1 373.8,371.1 374.3,375.3 374.9,372.3 375.4,375.3 375.9,373.5 376.4,376.5 376.9,374.7 377.4,377.7 378.0,374.7 378.6,378.9 379.1,375.9 379.7,378.9 380.2,375.9 380.8,378.9 381.3,375.9 381.9,378.9 382.4,377.1 382.9,380.1 383.4,377.1 383.9,380.1 384.5,377.1 385.0,380.1 385.5,377.1 386.1,380.1 386.6,377.1 387.2,380.1 387.7,377.1 388.3,381.3 388.8,378.3 389.3,381.3 389.9,378.3 390.4,381.3 390.9,378.3 391.4,381.3 391.9,378.3 392.5,381.3 393.0,378.3 393.6,381.3 394.1,378.3 394.6,381.3 395.2,379.5 395.7,382.5 396.2,379.5 396.7,382.5 397.2,379.5 397.7,382.5 398.3,379.5 398.8,382.5 399.4,380.7 399.9,383.7 400.4,380.7 401.0,383.7 401.5,380.7 402.0,383.7 402.5,380.7 403.0,383.7 403.6,380.7 404.1,383.7 404.6,380.7 405.2,383.7 405.7,380.7 406.2,383.7 406.7,381.9 407.2,384.9 407.7,381.9 408.3,384.9 408.8,381.9 409.3,384.9 409.9,381.9 410.4,384.9 410.9,381.9 411.4,384.9 411.9,381.9 412.4,384.9 413.0,381.9 413.5,384.9 414.0,381.9 414.5,384.9 415.1,381.9 415.6,384.9 416.1,381.9 416.6,384.9 417.1,383.1 417.6,386.1 418.2,383.1 418.7,386.1" fill="none" stroke="#000000" stroke-width="1.8" stroke-linejoin="round" marker-start="url(#mt)" marker-mid="url(#mt)" marker-end="url(#mt)"/>
</g>
<g class="lg">
<rect x="234.8" y="21.7" width="296.8" height="133.4" fill="#fff" stroke="#454545" stroke-width="1.1"/>
<use href="#gmp" x="258.1" y="34.7"/><text transform="translate(280.6,37.2) scale(1,1.04)" xml:space="preserve">4-QAM<tspan dy="5.7" font-size="9.3px">Lab</tspan><tspan dy="-5.7"> CFL-bulb &amp; Hairdryer Original Seq.</tspan></text><path d="M238.5 56.4H277.3" stroke="#0000ff" stroke-width="1.8" fill="none"/><use href="#gms" x="258.1" y="56.4"/><text transform="translate(280.6,58.9) scale(1,1.04)" xml:space="preserve">4-QAM<tspan dy="5.7" font-size="9.3px">Lab</tspan><tspan dy="-5.7"> CFL-bulb &amp; Hairdryer Model Seq.</tspan></text><path d="M238.5 78.1H277.3" stroke="#00ff00" stroke-width="1.8" fill="none"/><use href="#gmc" x="258.1" y="78.1"/><text transform="translate(280.6,80.6) scale(1,1.04)" xml:space="preserve">8-QAM<tspan dy="5.7" font-size="9.3px">Lab</tspan><tspan dy="-5.7"> CFL-bulb &amp; Hairdryer Original Seq.</tspan></text><path d="M238.5 99.9H277.3" stroke="#ffff00" stroke-width="1.8" fill="none"/><use href="#gmd" x="258.1" y="99.9"/><text transform="translate(280.6,102.4) scale(1,1.04)" xml:space="preserve">8-QAM<tspan dy="5.7" font-size="9.3px">Lab</tspan><tspan dy="-5.7"> CFL-bulb &amp; Hairdryer Model Seq.</tspan></text><path d="M238.5 121.6H277.3" stroke="#ff00ff" stroke-width="1.8" fill="none"/><use href="#gmq" x="258.1" y="121.6"/><text transform="translate(280.6,124.1) scale(1,1.04)" xml:space="preserve">16-QAM<tspan dy="5.7" font-size="9.3px">Lab</tspan><tspan dy="-5.7"> CFL-bulb &amp; Hairdryer Original Seq.</tspan></text><path d="M238.5 143.3H277.3" stroke="#000000" stroke-width="1.8" fill="none"/><use href="#gmt" x="258.1" y="143.3"/><text transform="translate(280.6,145.8) scale(1,1.04)" xml:space="preserve">16-QAM<tspan dy="5.7" font-size="9.3px">Lab</tspan><tspan dy="-5.7">CFL-bulb &amp; Hairdryer Model Seq.</tspan></text>
</g>
</svg>
</body></html>
